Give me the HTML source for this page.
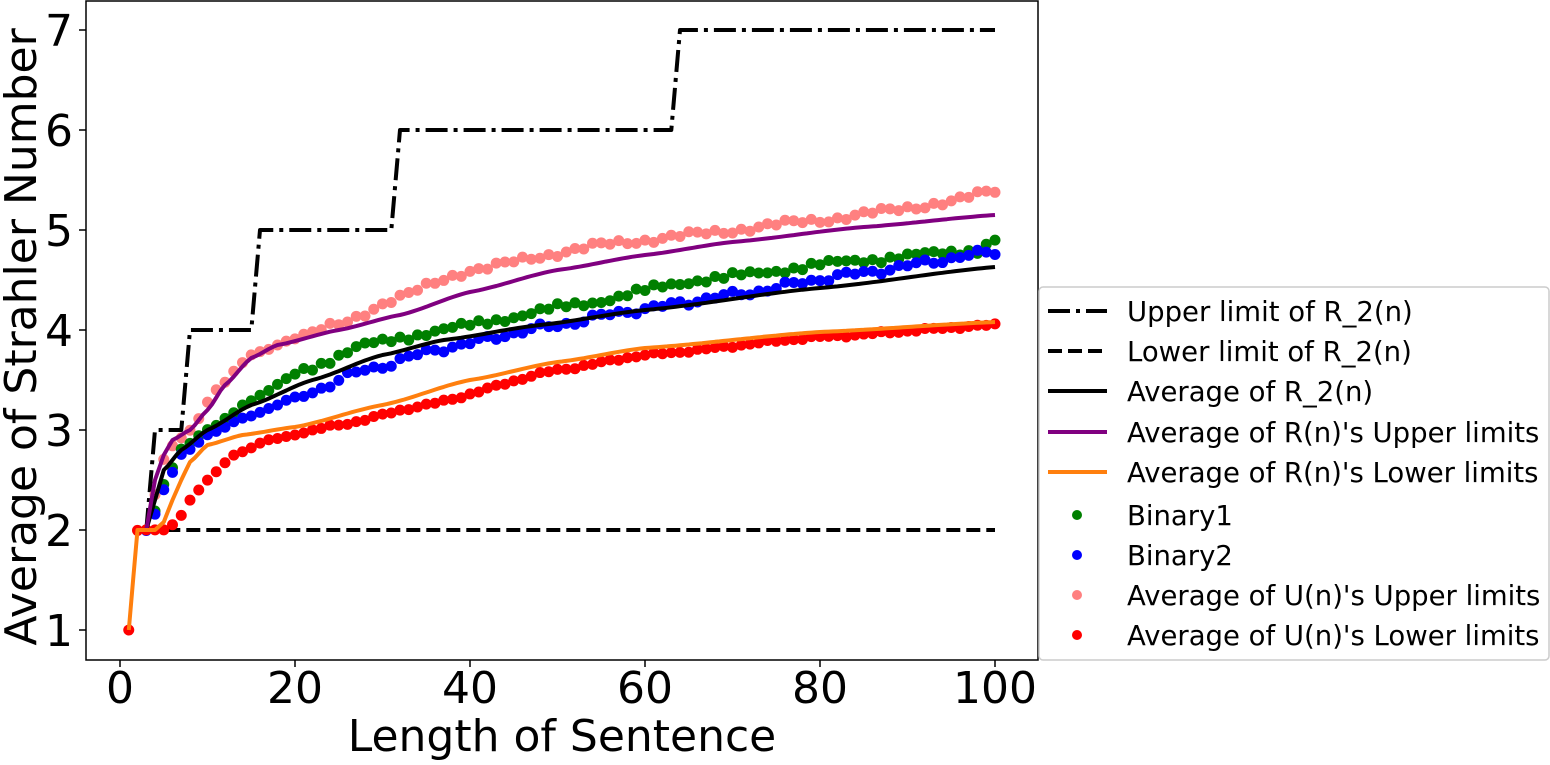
<!DOCTYPE html>
<html><head><meta charset="utf-8"><style>
body{margin:0;background:#fff;}
svg text{font-family:"DejaVu Sans","Liberation Sans",sans-serif;fill:#000;}
</style></head><body>
<svg id="s" width="1550" height="760" xmlns="http://www.w3.org/2000/svg">
<rect x="0" y="0" width="1550" height="760" fill="#fff"/>
<g id="plot"></g>
<rect x="86" y="1" width="952" height="659" fill="none" stroke="#000" stroke-width="1.5"/>
<g font-size="44" text-anchor="middle">
<text x="120" y="703">0</text><text x="295" y="703">20</text><text x="470" y="703">40</text><text x="645" y="703">60</text><text x="820" y="703">80</text><text x="995" y="703">100</text>
</g>
<g font-size="44" text-anchor="end">
<text x="73" y="646">1</text><text x="73" y="546">2</text><text x="73" y="446">3</text><text x="73" y="346">4</text><text x="73" y="246">5</text><text x="73" y="146">6</text><text x="73" y="46">7</text>
</g>
<g stroke="#000" stroke-width="1.5">
<line x1="120" y1="660" x2="120" y2="667"/><line x1="295" y1="660" x2="295" y2="667"/><line x1="470" y1="660" x2="470" y2="667"/><line x1="645" y1="660" x2="645" y2="667"/><line x1="820" y1="660" x2="820" y2="667"/><line x1="995" y1="660" x2="995" y2="667"/>
<line x1="79" y1="630" x2="86" y2="630"/><line x1="79" y1="530" x2="86" y2="530"/><line x1="79" y1="430" x2="86" y2="430"/><line x1="79" y1="330" x2="86" y2="330"/><line x1="79" y1="230" x2="86" y2="230"/><line x1="79" y1="130" x2="86" y2="130"/><line x1="79" y1="30" x2="86" y2="30"/>
</g>
<text x="562" y="751" font-size="44" text-anchor="middle">Length of Sentence</text>
<text transform="translate(36,337) rotate(-90)" font-size="44" text-anchor="middle">Average of Strahler Number</text>
<rect x="1039" y="287" width="510" height="373" rx="4" fill="#fff" stroke="#ccc" stroke-width="1.5"/>
<g stroke-width="4">
<line x1="1048" y1="311" x2="1107" y2="311" stroke="#000" stroke-dasharray="22,6,4,6"/>
<line x1="1048" y1="351" x2="1107" y2="351" stroke="#000" stroke-dasharray="14,6"/>
<line x1="1048" y1="391" x2="1107" y2="391" stroke="#000"/>
<line x1="1048" y1="432" x2="1107" y2="432" stroke="#800080"/>
<line x1="1048" y1="472" x2="1107" y2="472" stroke="#ff7f0e"/>
</g>
<circle cx="1077" cy="515" r="5" fill="green"/>
<circle cx="1077" cy="555" r="5" fill="blue"/>
<circle cx="1077" cy="595" r="5" fill="#ff8080"/>
<circle cx="1077" cy="635" r="5" fill="red"/>
<g font-size="27.5">
<text x="1127" y="321">Upper limit of R_2(n)</text>
<text x="1127" y="361">Lower limit of R_2(n)</text>
<text x="1127" y="401">Average of R_2(n)</text>
<text x="1127" y="442">Average of R(n)'s Upper limits</text>
<text x="1127" y="482">Average of R(n)'s Lower limits</text>
<text x="1127" y="525">Binary1</text>
<text x="1127" y="565">Binary2</text>
<text x="1127" y="605">Average of U(n)'s Upper limits</text>
<text x="1127" y="645">Average of U(n)'s Lower limits</text>
</g>
</svg>
<script>
var X=function(n){return 120+8.75*n;},Y=function(v){return 730-100*v;};
function interp(k,n){for(var i=0;i<k.length-1;i++){if(n>=k[i][0]&&n<=k[i+1][0]){var t=(n-k[i][0])/(k[i+1][0]-k[i][0]);t=t*t*(3-2*t)*0.3+t*0.7;return k[i][1]+t*(k[i+1][1]-k[i][1]);}}return k[k.length-1][1];}
var g=document.getElementById('plot'),NS='http://www.w3.org/2000/svg';
function line(pts,col,dash){var p=document.createElementNS(NS,'polyline');p.setAttribute('points',pts.map(function(q){return X(q[0]).toFixed(1)+','+Y(q[1]).toFixed(1)}).join(' '));p.setAttribute('fill','none');p.setAttribute('stroke',col);p.setAttribute('stroke-width','4');p.setAttribute('stroke-linejoin','round');if(dash)p.setAttribute('stroke-dasharray',dash);g.appendChild(p);}
function dots(k,col,amp,start,seed){for(var n=start;n<=100;n++){var v=interp(k,n)+amp*Math.sin(n*seed)*Math.cos(n*1.7)*(n>20?1:0.3);var c=document.createElementNS(NS,'circle');c.setAttribute('cx',X(n));c.setAttribute('cy',Y(v));c.setAttribute('r','5.5');c.setAttribute('fill',col);g.appendChild(c);}}
function curve(k,s){var a=[];for(var n=s;n<=100;n+=0.5)a.push([n,interp(k,n)]);return a;}
var up=[];for(var n=3;n<=100;n++){up.push([n,Math.floor(Math.log2(n))+1]);}
line(up,'#000','22,6,4,6');
line([[3,2],[100,2]],'#000','14,6');
var pink=[[3,2],[4,2.35],[5,2.7],[6,2.85],[8,3.0],[11,3.4],[15,3.75],[20,3.92],[25,4.05],[31,4.3],[40,4.6],[55,4.85],[65,4.95],[80,5.1],[95,5.28],[100,5.4]];
var green=[[3,2],[4,2.2],[5,2.45],[7,2.8],[10,3.0],[15,3.3],[21,3.6],[28,3.85],[38,4.02],[52,4.25],[66,4.5],[85,4.7],[98,4.8],[100,4.9]];
var blue=[[3,2],[4,2.15],[5,2.4],[7,2.75],[10,2.95],[15,3.15],[20,3.32],[28,3.6],[37,3.82],[48,4.02],[59,4.2],[70,4.35],[83,4.55],[100,4.78]];
var red=[[1,1],[2,2],[3,2],[5,2],[6,2.05],[7,2.15],[8,2.3],[10,2.5],[13,2.75],[17,2.9],[25,3.05],[35,3.25],[50,3.6],[60,3.75],[80,3.93],[100,4.05]];
dots(pink,'#ff8080',0.04,3,2.3);dots(green,'green',0.04,3,1.1);dots(blue,'blue',0.04,3,3.7);dots(red,'red',0.015,1,0.7);
line(curve([[3,2],[4,2.3],[5,2.6],[7,2.8],[10,3.0],[15,3.25],[22,3.5],[30,3.75],[37,3.9],[48,4.05],[60,4.2],[80,4.42],[100,4.63]],3),'#000');
line(curve([[3,2],[4,2.5],[5,2.75],[6,2.9],[8,3.0],[10,3.2],[12,3.45],[15,3.72],[18,3.85],[25,4.0],[32,4.15],[40,4.38],[50,4.6],[60,4.75],[70,4.88],[85,5.03],[100,5.15]],3),'#800080');
line(curve([[1,1],[2,2],[3,2],[4,2.0],[5,2.08],[6,2.3],[7,2.5],[8,2.68],[10,2.85],[14,2.95],[20,3.03],[30,3.25],[40,3.5],[50,3.68],[60,3.82],[80,3.98],[100,4.08]],1),'#ff7f0e');
</script>
</body></html>
